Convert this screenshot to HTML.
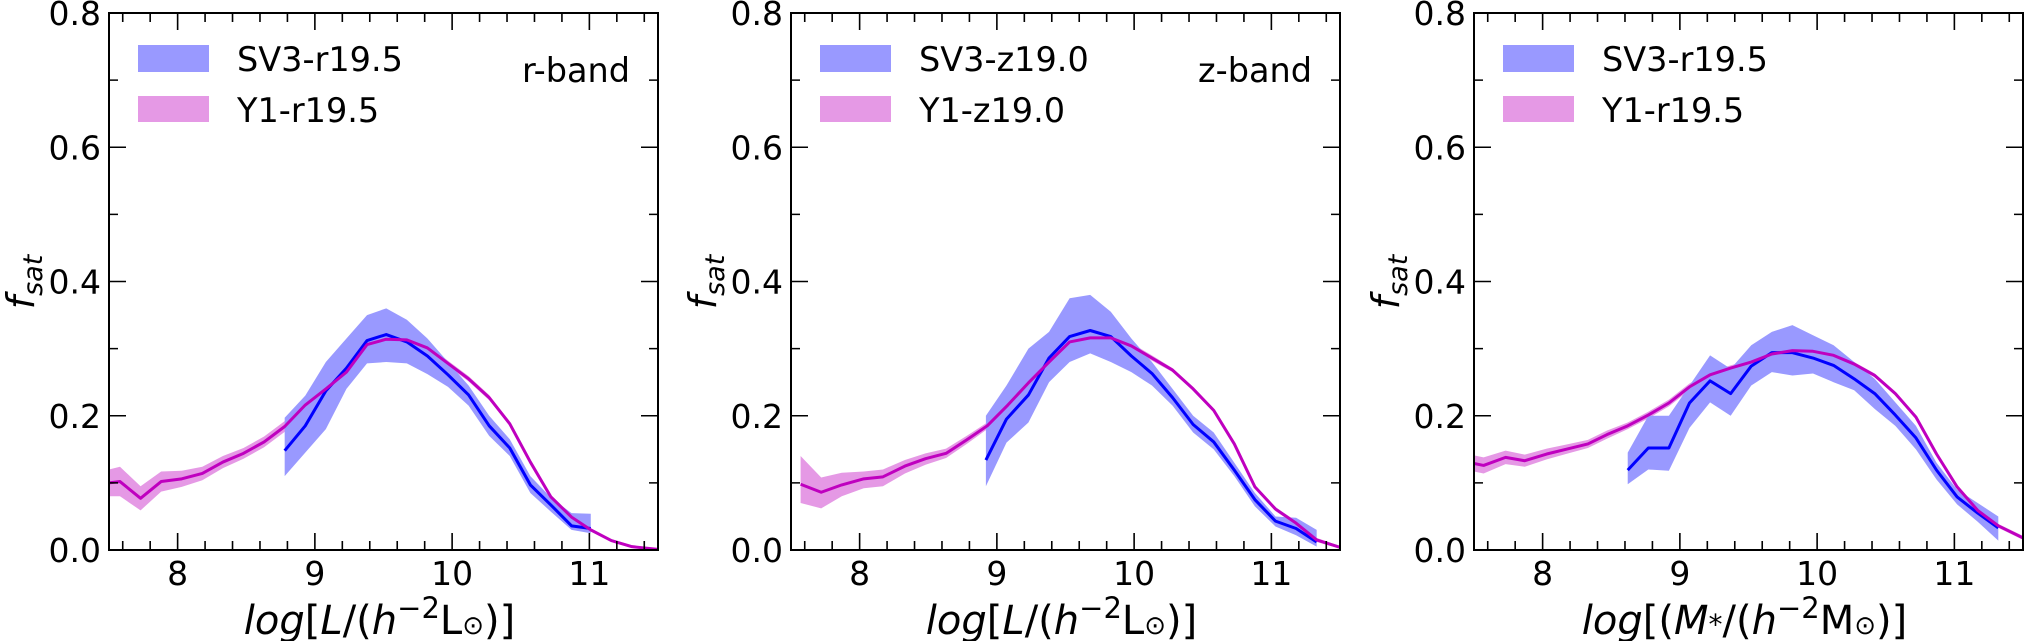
<!DOCTYPE html>
<html><head><meta charset="utf-8">
<style>
html,body{margin:0;padding:0;background:#fff;}
svg{display:block;font-family:"DejaVu Sans","Liberation Sans",sans-serif;}
</style></head>
<body>
<svg id="s" width="2026" height="641" viewBox="0 0 2026 641" xmlns="http://www.w3.org/2000/svg"></svg>
<script>
const S=document.getElementById('s');
const NS='http://www.w3.org/2000/svg';
function el(t,a,txt){const e=document.createElementNS(NS,t);for(const k in a)e.setAttribute(k,a[k]);if(txt!==undefined)e.textContent=txt;S.appendChild(e);return e;}
const W=549,TOP=13,BOT=550,H=BOT-TOP;
const panels=[
{L:109,leg:["SV3-r19.5","Y1-r19.5"],band:"r-band",type:0,
 y1:[[7.5,0.100,0.02],[7.58,0.102,0.022],[7.73,0.077,0.018],[7.88,0.102,0.015],[8.03,0.106,0.012],[8.18,0.114,0.01],[8.33,0.131,0.009],[8.48,0.144,0.008],[8.63,0.161,0.008],[8.78,0.184,0.008],[8.93,0.216,0.007],[9.08,0.240,0.007],[9.23,0.265,0.007],[9.38,0.306,0.006],[9.52,0.314,0.006],[9.67,0.313,0.005],[9.82,0.301,0.005],[9.97,0.278,0.004],[10.12,0.255,0.004],[10.27,0.227,0.004],[10.42,0.188,0.003],[10.57,0.131,0.003],[10.72,0.079,0.003],[10.87,0.049,0.003],[11.01,0.030,0.002],[11.16,0.014,0.002],[11.31,0.005,0.002],[11.5,0.001,0.001]],
 sv:[[8.78,0.148,0.197,0.11],[8.93,0.185,0.23,0.145],[9.08,0.237,0.28,0.18],[9.23,0.271,0.315,0.24],[9.38,0.312,0.35,0.278],[9.52,0.321,0.36,0.28],[9.67,0.310,0.343,0.278],[9.82,0.289,0.315,0.262],[9.97,0.261,0.28,0.243],[10.12,0.231,0.245,0.215],[10.27,0.185,0.2,0.17],[10.42,0.152,0.165,0.14],[10.57,0.097,0.11,0.085],[10.72,0.067,0.078,0.057],[10.87,0.036,0.055,0.03],[11.01,0.032,0.054,0.025]]},
{L:791,leg:["SV3-z19.0","Y1-z19.0"],band:"z-band",type:0,
 y1:[[7.57,0.098,0.14,0.07],[7.72,0.086,0.108,0.062],[7.87,0.097,0.115,0.08],[8.03,0.106,0.117,0.092],[8.17,0.109,0.12,0.095],[8.33,0.125,0.134,0.114],[8.48,0.136,0.144,0.127],[8.63,0.144,0.151,0.137],[8.78,0.164,0.17,0.158],[8.93,0.185,0.19,0.18],[9.08,0.216,0.221,0.211],[9.23,0.249,0.254,0.244],[9.38,0.280,0.285,0.275],[9.53,0.310,0.315,0.305],[9.68,0.316,0.32,0.312],[9.83,0.316,0.32,0.312],[9.98,0.304,0.308,0.3],[10.13,0.286,0.29,0.282],[10.28,0.268,0.271,0.265],[10.43,0.240,0.243,0.237],[10.58,0.208,0.211,0.205],[10.73,0.158,0.161,0.155],[10.88,0.094,0.097,0.091],[11.03,0.061,0.064,0.058],[11.18,0.040,0.043,0.037],[11.33,0.015,0.018,0.012],[11.5,0.004,0.006,0.002]],
 sv:[[8.92,0.134,0.2,0.095],[9.07,0.195,0.245,0.16],[9.23,0.231,0.3,0.19],[9.38,0.286,0.325,0.25],[9.53,0.318,0.375,0.28],[9.68,0.327,0.38,0.293],[9.83,0.318,0.355,0.28],[9.98,0.289,0.315,0.265],[10.13,0.263,0.28,0.245],[10.28,0.227,0.24,0.215],[10.43,0.187,0.2,0.175],[10.58,0.161,0.175,0.15],[10.73,0.119,0.13,0.11],[10.88,0.075,0.085,0.065],[11.03,0.043,0.05,0.035],[11.18,0.032,0.048,0.022],[11.33,0.012,0.03,0.005]]},
{L:1474,leg:["SV3-r19.5","Y1-r19.5"],band:"",type:1,
 y1:[[7.5,0.129,0.012],[7.57,0.126,0.012],[7.73,0.138,0.01],[7.87,0.133,0.009],[8.03,0.143,0.008],[8.17,0.150,0.007],[8.33,0.158,0.006],[8.47,0.172,0.006],[8.62,0.185,0.005],[8.77,0.201,0.005],[8.92,0.219,0.005],[9.07,0.243,0.005],[9.22,0.261,0.005],[9.37,0.271,0.004],[9.52,0.280,0.004],[9.67,0.292,0.004],[9.82,0.297,0.004],[9.97,0.296,0.004],[10.12,0.290,0.004],[10.27,0.277,0.003],[10.42,0.260,0.003],[10.57,0.233,0.003],[10.72,0.198,0.003],[10.87,0.143,0.003],[11.02,0.094,0.003],[11.17,0.059,0.003],[11.32,0.036,0.003],[11.5,0.018,0.003]],
 sv:[[8.62,0.119,0.145,0.098],[8.77,0.152,0.2,0.12],[8.92,0.152,0.2,0.118],[9.07,0.219,0.245,0.182],[9.22,0.252,0.29,0.22],[9.37,0.233,0.27,0.2],[9.52,0.274,0.305,0.245],[9.67,0.294,0.325,0.265],[9.82,0.294,0.335,0.26],[9.97,0.286,0.32,0.263],[10.12,0.275,0.305,0.25],[10.27,0.255,0.28,0.238],[10.42,0.233,0.255,0.21],[10.57,0.201,0.22,0.185],[10.72,0.167,0.185,0.15],[10.87,0.119,0.13,0.105],[11.02,0.079,0.09,0.068],[11.17,0.055,0.07,0.042],[11.32,0.033,0.05,0.014]]}
];
const MB='#e599e5',ML='#bf00bf',BB='#9999ff',BL='#0000ff';
panels.forEach(p=>{
 const L=p.L,R=L+W;
 const X=x=>L+(x-7.5)/4*W, Y=y=>BOT-y/0.8*H;
 el('clipPath',{id:'c'+L}).appendChild((()=>{const r=document.createElementNS(NS,'rect');r.setAttribute('x',L);r.setAttribute('y',TOP);r.setAttribute('width',W);r.setAttribute('height',H);return r;})());
 const g=el('g',{'clip-path':'url(#c'+L+')'});
 function add(t,a){const e=document.createElementNS(NS,t);for(const k in a)e.setAttribute(k,a[k]);g.appendChild(e);}
 const up=p.y1.map(d=>d.length==3?[d[0],d[1]+d[2]]:[d[0],d[2]]), lo=p.y1.map(d=>d.length==3?[d[0],d[1]-d[2]]:[d[0],d[3]]);
 const poly=(u,l)=>u.map(d=>X(d[0])+','+Y(d[1])).join(' ')+' '+l.slice().reverse().map(d=>X(d[0])+','+Y(d[1])).join(' ');
 add('polygon',{points:poly(up,lo),fill:MB});
 add('polygon',{points:poly(p.sv.map(d=>[d[0],d[2]]),p.sv.map(d=>[d[0],d[3]])),fill:BB});
 add('polyline',{points:p.sv.map(d=>X(d[0])+','+Y(d[1])).join(' '),fill:'none',stroke:BL,'stroke-width':3,'stroke-linejoin':'round'});
 add('polyline',{points:p.y1.map(d=>X(d[0])+','+Y(d[1])).join(' '),fill:'none',stroke:ML,'stroke-width':3,'stroke-linejoin':'round'});
 let t='';
 for(let i=0;i<=8;i++){const y=Y(i*0.1),len=i%2==0?17:9;t+=`M${L},${y}h${len}M${R},${y}h${-len}`;}
 for(let i=0;i<=20;i++){const xv=7.6+i*0.2;if(xv>11.45)break;const x=X(xv);const maj=Math.abs(xv-Math.round(xv))<0.01;const len=maj?17:9;t+=`M${x},${BOT}v${-len}M${x},${TOP}v${len}`;}
 el('path',{d:t,stroke:'#000','stroke-width':1.6,fill:'none'});
 el('rect',{x:L,y:TOP,width:W,height:H,fill:'none',stroke:'#000','stroke-width':2});
 for(let i=0;i<=4;i++){el('text',{x:L-8,y:Y(i*0.2)+12,'font-size':33,'text-anchor':'end'},(i*0.2).toFixed(1));}
 [8,9,10,11].forEach(v=>el('text',{x:X(v),y:585,'font-size':33,'text-anchor':'middle'},String(v)));
 el('rect',{x:L+29,y:45,width:71,height:27,fill:BB});
 el('rect',{x:L+29,y:96,width:71,height:26,fill:MB});
 el('text',{x:L+128,y:71,'font-size':33.5},p.leg[0]);
 el('text',{x:L+128,y:122,'font-size':33.5},p.leg[1]);
 if(p.band) el('text',{x:R-28,y:82,'font-size':33.5,'text-anchor':'end'},p.band);
 const yl=el('text',{x:0,y:0,'font-size':38,'font-style':'italic',transform:`translate(${L-75},${282}) rotate(-90)`,'text-anchor':'middle'});
 yl.innerHTML='f<tspan font-size="27" dy="8">sat</tspan>';
 const xl=el('text',{x:L+W/2-4,y:634,'font-size':40,'text-anchor':'middle'});
 if(p.type==0) xl.innerHTML='<tspan font-style="italic">log</tspan>[<tspan font-style="italic">L</tspan>/(<tspan font-style="italic">h</tspan><tspan font-size="29" dy="-16">−2</tspan><tspan dy="16">L</tspan><tspan font-size="26">⊙</tspan>)]';
 else xl.innerHTML='<tspan font-style="italic">log</tspan>[(<tspan font-style="italic">M</tspan><tspan font-size="28">*</tspan>/(<tspan font-style="italic">h</tspan><tspan font-size="29" dy="-16">−2</tspan><tspan dy="16">M</tspan><tspan font-size="26">⊙</tspan>)]';
});
</script>
</body></html>
